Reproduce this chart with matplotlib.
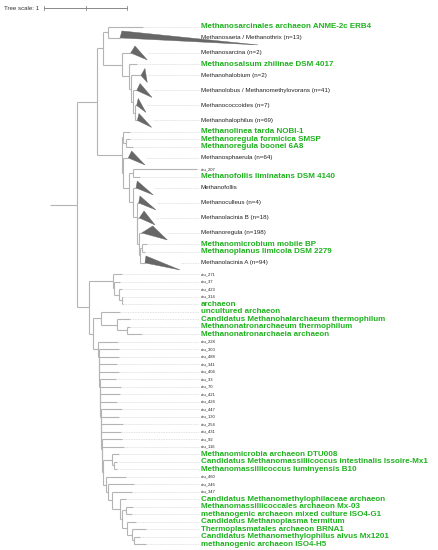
import matplotlib
matplotlib.use('Agg')
import matplotlib.pyplot as plt
from matplotlib.collections import LineCollection
from matplotlib.patches import Polygon

# ---------------- data: tree topology with branch lengths (tree units) ----------------
sarcinales = ("(('Methanosarcinales archaeon ANME-2c ERB4':0.422,'Methanosaeta / Methanothrix (n=13)':0.141):0.067,"
              "('Methanosarcina (n=2)':0.108,('Methanosalsum zhilinae DSM 4017':0.089,('Methanohalobium (n=2)':0.12,"
              "('Methanolobus / Methanomethylovorans (n=41)':0.045,('Methanococcoides (n=7)':0.02,"
              "'Methanohalophilus (n=69)':0.028):0.024):0.024):0.02):0.092):0.229):0.065")
microbiales = ("(('Methanolinea tarda NOBI-1':0.081,('Methanoregula formicica SMSP':0.048,'Methanoregula boonei 6A8':0.084):0.033):0.019,"
               "('Methanosphaerula (n=64)':0.06,(('otu_207':0.764,'Methanofollis liminatans DSM 4140':0.081):0.048,"
               "('Methanofollis':0.033,('Methanoculleus (n=4)':0.024,('Methanolacinia B (n=18)':0.022,('Methanoregula (n=198)':0.033,"
               "(('Methanomicrobium mobile BP':0.06,'Methanoplanus limicola DSM 2279':0.04):0.014,"
               "'Methanolacinia A (n=94)':0.054):0.018):0.018):0.01):0.041):0.048):0.072):0.019):0.294")
otu_clade = "('otu_271':0.101,('otu_37':0.069,('otu_423':0.029,('otu_314':0.019,'archaeon':0.019):0.029):0.06):0.012):0.289"
natron = ("('uncultured archaeon':0.233,('Candidatus Methanohalarchaeum thermophilum':0.16,"
          "('Methanonatronarchaeum thermophilum':0.04,'Methanonatronarchaeia archaeon':0.181):0.12):0.193):0.096")
massilii = ("(('Methanomicrobia archaeon DTU008':0.089,('Candidatus Methanomassiliicoccus intestinalis Issoire-Mx1':0.04,"
            "'Methanomassiliicoccus luminyensis B10':0.04):0.029):0.104,('otu_460':0.241,('otu_246':0.31,('otu_347':0.249,"
            "('Candidatus Methanomethylophilaceae archaeon':0.072,(('Methanomassiliicoccales archaeon Mx-03':0.089,"
            "'methanogenic archaeon mixed culture ISO4-G1':0.081):0.04,('Candidatus Methanoplasma termitum':0.1,"
            "('Thermoplasmatales archaeon BRNA1':0.16,('Candidatus Methanomethylophilus alvus Mx1201':0.076,"
            "'methanogenic archaeon ISO4-H5':0.14):0.02):0.06):0.06):0.033):0.096):0.04):0.033):0.031):0.015")
ladder_otus = ['otu_228', 'otu_300', 'otu_488', 'otu_341', 'otu_404', 'otu_33', 'otu_70', 'otu_421',
               'otu_424', 'otu_447', 'otu_130', 'otu_254', 'otu_431', 'otu_92', 'otu_116']
ladder_lens = [0.241, 0.241, 0.241, 0.222, 0.241, 0.201, 0.261, 0.241,
               0.201, 0.261, 0.222, 0.27, 0.241, 0.241, 0.27]
ladder_step = 0.003
ladder_stem = 0.067

collapsed_names = ['Methanosaeta / Methanothrix (n=13)', 'Methanosarcina (n=2)', 'Methanohalobium (n=2)',
                   'Methanolobus / Methanomethylovorans (n=41)', 'Methanococcoides (n=7)',
                   'Methanohalophilus (n=69)', 'Methanosphaerula (n=64)', 'Methanofollis',
                   'Methanoculleus (n=4)', 'Methanolacinia B (n=18)', 'Methanoregula (n=198)',
                   'Methanolacinia A (n=94)']
collapsed_min = [0.024, 0.052, 0.048, 0.04, 0.019, 0.02, 0.041, 0.016, 0.016, 0.057, 0.133, 0.012]
collapsed_max = [1.663, 0.2, 0.076, 0.184, 0.112, 0.173, 0.201, 0.208, 0.208, 0.189, 0.308, 0.422]

# build ladder newick
lad = massilii
for i in range(len(ladder_otus) - 1, -1, -1):
    ln = ladder_stem if i == 0 else ladder_step
    lad = "('%s':%g,%s):%g" % (ladder_otus[i], ladder_lens[i], lad, ln)
newick = "((%s,%s):0.248,(%s,(%s,%s):0.041):0.152):0.322;" % (sarcinales, microbiales, otu_clade, natron, lad)

collapsed = {n: (a, b) for n, a, b in zip(collapsed_names, collapsed_min, collapsed_max)}


def parse(s):
    pos = 0

    def node():
        nonlocal pos
        n = {'children': [], 'name': None, 'len': 0.0}
        if s[pos] == '(':
            pos += 1
            while True:
                n['children'].append(node())
                if s[pos] == ',':
                    pos += 1
                    continue
                if s[pos] == ')':
                    pos += 1
                    break
        if s[pos] == "'":
            end = s.index("'", pos + 1)
            n['name'] = s[pos + 1:end]
            pos = end + 1
        if s[pos] == ':':
            pos += 1
            st = pos
            while s[pos] not in ',);':
                pos += 1
            n['len'] = float(s[st:pos])
        return n
    return node()


root = parse(newick)
slot = [0.0]


def layout(n, x0):
    n['x'] = x0 + n['len']
    if n['children']:
        for c in n['children']:
            layout(c, n['x'])
        n['y'] = (n['children'][0]['y'] + n['children'][-1]['y']) / 2
    else:
        h = 2 if n['name'] in collapsed else 1
        n['y'] = slot[0] + h / 2
        slot[0] += h


layout(root, 0.0)

# ---------------- drawing ----------------
W, H = 438, 550
fig = plt.figure(figsize=(W / 100, H / 100), dpi=100)
ax = fig.add_axes([0, 0, 1, 1])
PX0, PXU = 50.0, 83.0       # pixel of tree origin, pixels per tree unit
PY0, PYU = 22.95, 7.5       # pixel of first slot, pixels per slot
ax.set_xlim(-PX0 / PXU, (W - PX0) / PXU)
ax.set_ylim((H - PY0) / PYU, -PY0 / PYU)
ax.axis('off')

label_x = (201 - PX0) / PXU
branch_col = '#b4b4b4'
green = '#1fb21f'

segs = [[(0, root['y']), (root['x'], root['y'])]]
leaves = []


def collect(n):
    if n['children']:
        segs.append([(n['x'], n['children'][0]['y']), (n['x'], n['children'][-1]['y'])])
        for c in n['children']:
            segs.append([(n['x'], c['y']), (c['x'], c['y'])])
            collect(c)
    else:
        leaves.append(n)


collect(root)
ax.add_collection(LineCollection(segs, colors=branch_col, linewidths=0.8, capstyle='butt'))

dots = []
for lf in leaves:
    name = lf['name']
    if name in collapsed:
        mn, mx = collapsed[name]
        poly = Polygon([(lf['x'], lf['y']), (lf['x'] + mn, lf['y'] - 0.93), (lf['x'] + mx, lf['y'] + 0.93)],
                       closed=True, facecolor='#676767', edgecolor='#676767', linewidth=0.3, zorder=3)
        ax.add_patch(poly)
        end = lf['x'] + mx
        ax.text(label_x, lf['y'], name, fontsize=4.5, family='Liberation Sans', color='#222222',
                va='center', ha='left', zorder=4)
    elif name.startswith('otu_'):
        end = lf['x']
        ax.text(label_x, lf['y'], name, fontsize=3.0, family='Liberation Sans', color='#222222',
                va='center', ha='left', zorder=4)
    else:
        end = lf['x']
        ax.text(label_x, lf['y'], name, fontsize=5.8, family='Liberation Sans', fontweight='bold',
                color=green, va='center', ha='left', zorder=4)
    if end < label_x - 0.03:
        dots.append([(end + 0.01, lf['y']), (label_x - 0.02, lf['y'])])

ax.add_collection(LineCollection(dots, colors='#cfcfcf', linewidths=0.5, linestyles=[(0, (1.2, 1.2))]))

# tree scale
sy = (8.3 - PY0) / PYU
sx0 = (44.3 - PX0) / PXU
ax.plot([sx0, sx0 + 1.0], [sy, sy], color='#888888', lw=0.7)
for t in (0.0, 0.5, 1.0):
    ax.plot([sx0 + t, sx0 + t], [sy - 0.25, sy + 0.25], color='#888888', lw=0.6)
ax.text((4 - PX0) / PXU, sy, 'Tree scale: 1', fontsize=4.4, family='Liberation Sans', color='#333333',
        va='center', ha='left')

fig.savefig('out.png', dpi=100)
